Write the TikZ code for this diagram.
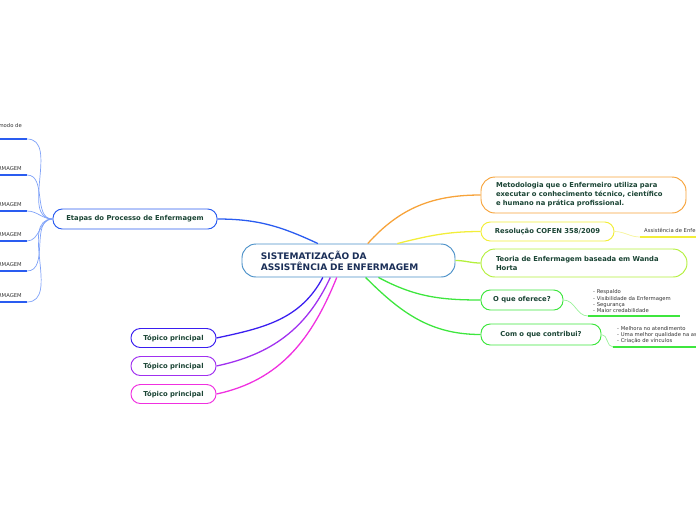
\documentclass[tikz,border=0pt]{standalone}
\usepackage{fontspec}
\setmainfont{DejaVu Sans}
\usetikzlibrary{positioning}
\usetikzlibrary{calc}

\definecolor{cblue}{HTML}{2A5CF0}
\definecolor{cblueL}{HTML}{7FA2F8}
\definecolor{ccentral}{HTML}{4A90C8}
\definecolor{corange}{HTML}{F7A33A}
\definecolor{cyellow}{HTML}{F2EE3A}
\definecolor{cyellowL}{HTML}{F6F49A}
\definecolor{clime}{HTML}{B4F03C}
\definecolor{cgreen}{HTML}{3EE63E}
\definecolor{cgreenL}{HTML}{9AF29A}
\definecolor{ctopA}{HTML}{3A1EF0}
\definecolor{ctopB}{HTML}{A030F0}
\definecolor{ctopC}{HTML}{F030E0}
\definecolor{ctext}{HTML}{1A4434}
\definecolor{cnavy}{HTML}{1B2F58}
\definecolor{cgray}{HTML}{333333}

\tikzset{
  topic/.style={draw, fill=white, line width=0.8pt, rounded corners=0.28cm,
    font=\fontsize{5.8}{7.7}\selectfont\bfseries, text=ctext, inner sep=0pt},
  bigtopic/.style={topic, rounded corners=0.42cm, align=left},
  link/.style={line width=1.1pt},
  sublink/.style={line width=0.6pt},
  underline/.style={line width=1.6pt},
  subtext/.style={font=\fontsize{4.5}{5.4}\selectfont, text=cgray, inner sep=0pt, align=left}
}

\begin{document}
\begin{tikzpicture}[x=0.03cm, y=-0.03cm]
    \useasboundingbox (0,0) rectangle (696,520);

    % central topic
    \node[topic, draw=ccentral, rounded corners=0.42cm, align=left, text=cnavy,
      font=\fontsize{7.7}{9.4}\selectfont\bfseries,
      minimum width=6.39cm, minimum height=0.99cm, text width=5.25cm, inner xsep=0.57cm]
      (central) at (348.5,260.5) {SISTEMATIZAÇÃO DA\\ASSISTÊNCIA DE ENFERMAGEM};

    % left side
    \node[topic, draw=cblue, minimum width=4.92cm, minimum height=0.6cm] (etapas) at (135,219) {Etapas do Processo de Enfermagem};
    \node[topic, draw=ctopA, minimum width=2.55cm, minimum height=0.57cm] (topA) at (173.5,338) {Tópico principal};
    \node[topic, draw=ctopB, minimum width=2.55cm, minimum height=0.57cm] (topB) at (173.5,366) {Tópico principal};
    \node[topic, draw=ctopC, minimum width=2.55cm, minimum height=0.57cm] (topC) at (173.5,394) {Tópico principal};

    % right side
    \node[bigtopic, draw=corange, minimum width=6.15cm, minimum height=1.08cm, text width=5.25cm, inner xsep=0.45cm]
      (metodo) at (583.5,195) {Metodologia que o Enfermeiro utiliza para\\executar o conhecimento técnico, científico\\e humano na prática profissional.};
    \node[topic, draw=cyellow, minimum width=3.99cm, minimum height=0.57cm] (cofen) at (547.5,231.5) {Resolução COFEN 358/2009};
    \node[bigtopic, draw=clime, minimum width=6.18cm, minimum height=0.84cm, text width=5.28cm, inner xsep=0.45cm]
      (teoria) at (584,263) {Teoria de Enfermagem baseada em Wanda\\Horta};
    \node[topic, draw=cgreen, minimum width=2.46cm, minimum height=0.6cm] (oferece) at (522,300) {O que oferece?};
    \node[topic, draw=cgreen, minimum width=3.6cm, minimum height=0.63cm] (contribui) at (541,334.5) {Com o que contribui?};

    % connectors from the central topic
    \draw[link, cblue] (etapas.east) to[out=0, in=155] ($(central.north west)!0.357!(central.north east)$);
    \draw[link, ctopA] (topA.east) to[out=12, in=-118] ($(central.south west)!0.38!(central.south east)$);
    \draw[link, ctopB] (topB.east) to[out=12, in=-115] ($(central.south west)!0.415!(central.south east)$);
    \draw[link, ctopC] (topC.east) to[out=12, in=-112] ($(central.south west)!0.445!(central.south east)$);
    \draw[link, corange] ($(central.north west)!0.59!(central.north east)$) to[out=48, in=180] (metodo.west);
    \draw[link, cyellow] ($(central.north west)!0.728!(central.north east)$) to[out=14, in=180] (cofen.west);
    \draw[link, clime] (central.east) to[out=0, in=180] (teoria.west);
    \draw[link, cgreen] ($(central.south west)!0.64!(central.south east)$) to[out=-28, in=180] (oferece.west);
    \draw[link, cgreen] ($(central.south west)!0.58!(central.south east)$) to[out=-45, in=180] (contribui.west);

    % sub topics of Etapas (cut by the page edge)
    \foreach \y/\ty/\txt [count=\i] in {139/128/modo de, 175/171/ENFERMAGEM, 211/207/ENFERMAGEM, 241/237/ENFERMAGEM, 271/267/ENFERMAGEM, 302/298/ENFERMAGEM} {
      \coordinate (et\i a) at (-10,\y);
      \coordinate (et\i b) at (27,\y);
      \node[subtext, anchor=south east] (et\i) at (22,\ty) {\txt};
      \draw[underline, cblue] (et\i a) -- (et\i b);
      \draw[sublink, cblueL] (et\i b) to[out=0, in=180] (etapas.west);
    }

    % sub topics on the right
    \coordinate (cofA) at (640,237);
    \coordinate (cofB) at (710,237);
    \node[subtext, anchor=south west] (cofT) at (644,234) {Assistência de Enfermagem};
    \draw[sublink, cyellowL] (cofen.east) to[out=0, in=180] (cofA);
    \draw[underline, cyellow] (cofA) -- (cofB);

    \coordinate (ofA) at (588,316);
    \coordinate (ofB) at (680,316);
    \node[subtext, anchor=south west] (ofT) at (593,313) {- Respaldo\\- Visibilidade da Enfermagem\\- Segurança\\- Maior credabilidade};
    \draw[sublink, cgreenL] (oferece.east) to[out=0, in=180] (ofA);
    \draw[underline, cgreen] (ofA) -- (ofB);

    \coordinate (coA) at (613,347);
    \coordinate (coB) at (710,347);
    \node[subtext, anchor=south west] (coT) at (617,344) {- Melhora no atendimento\\- Uma melhor qualidade na assistência\\- Criação de vínculos};
    \draw[sublink, cgreenL] (contribui.east) to[out=0, in=180] (coA);
    \draw[underline, cgreen] (coA) -- (coB);
\end{tikzpicture}
\end{document}
